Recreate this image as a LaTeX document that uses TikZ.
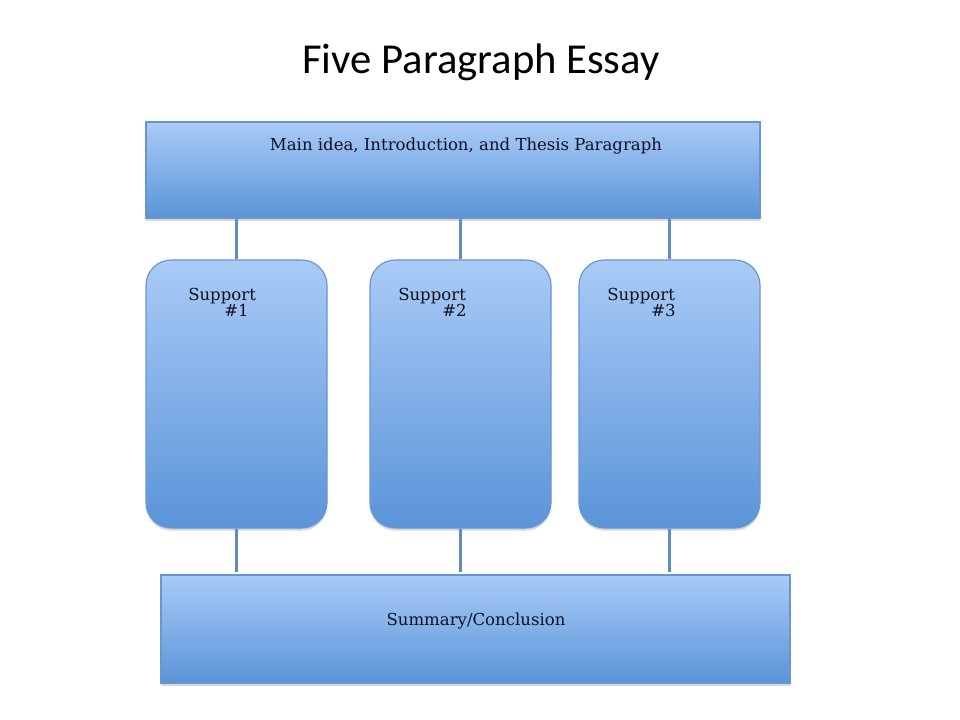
\documentclass[tikz,border=0pt]{standalone}
\usepackage{fontspec}
\setmainfont{DejaVu Serif}
\newfontfamily\titlefont{Carlito}
\usetikzlibrary{shadows}
\definecolor{boxtop}{HTML}{A9CBF7}
\definecolor{boxbot}{HTML}{5A94D8}
\definecolor{boxedge}{HTML}{6A96CE}
\definecolor{linkcol}{HTML}{5D8DC8}
\definecolor{txtcol}{HTML}{101020}
\begin{document}
\begin{tikzpicture}[x=0.75pt,y=-0.75pt,
  bluebox/.style={draw=boxedge,line width=0.9pt,top color=boxtop,bottom color=boxbot,
    inner sep=0pt,drop shadow={shadow xshift=0pt,shadow yshift=-2pt,opacity=0.3}},
  sqbox/.style={bluebox,rectangle},
  rbox/.style={bluebox,rectangle,rounded corners=19pt,minimum width=135.75pt,minimum height=201pt},
  link/.style={draw=linkcol,line width=2.8pt},
  lbl/.style={font=\fontsize{12.4}{12.8}\selectfont,text=txtcol,inner sep=0pt,align=left}]
\useasboundingbox[fill=white] (0,0) rectangle (960,720);
\node[font=\titlefont\fontsize{32}{36}\selectfont,inner sep=0pt] (title) at (481,62) {Five Paragraph Essay};
\node[sqbox,minimum width=460.5pt,minimum height=72pt] (top) at (453,170) {};
\node[sqbox,minimum width=471.75pt,minimum height=81pt] (bot) at (475.5,629) {};
\node[rbox] (s1) at (236.5,394) {};
\node[rbox] (s2) at (460.5,394) {};
\node[rbox] (s3) at (669.5,394) {};
\node[lbl] (ttop) at (466,146) {Main idea, Introduction, and Thesis Paragraph};
\node[lbl] (tbot) at (476,621) {Summary/Conclusion};
\node[lbl,anchor=north west] (t1) at (188,288) {Support\\[-1pt]\hspace*{27pt}\#1};
\node[lbl,anchor=north west] (t2) at (398,288) {Support\\[-1pt]\hspace*{33pt}\#2};
\node[lbl,anchor=north west] (t3) at (607,288) {Support\\[-1pt]\hspace*{33pt}\#3};
\foreach \s in {s1,s2,s3}{
  \draw[link] (\s.north) -- (\s.north |- top.south);
  \draw[link] (\s.south) -- ([yshift=2pt]\s.south |- bot.north);
}
\end{tikzpicture}
\end{document}
